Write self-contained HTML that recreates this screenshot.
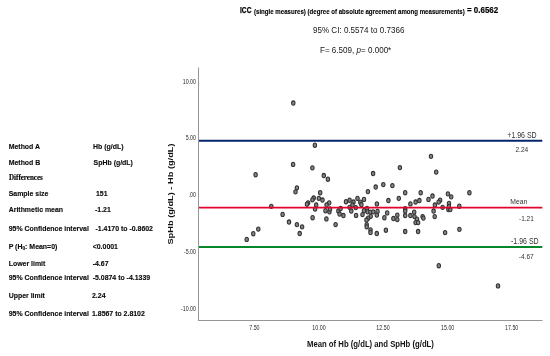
<!DOCTYPE html>
<html><head><meta charset="utf-8"><title>Bland-Altman plot</title>
<style>
html,body{margin:0;padding:0;background:#fff;}
body{width:550px;height:356px;position:relative;overflow:hidden;font-family:"Liberation Sans",Arial,sans-serif;color:#111;}
.t{position:absolute;white-space:nowrap;line-height:1;}
.tb{font-weight:bold;font-size:6.95px;color:#0a0a0a;-webkit-text-stroke:0.12px #0a0a0a;transform-origin:0 50%;transform:scaleY(1.08);}
.c{position:absolute;white-space:nowrap;line-height:1;font-size:6.9px;color:#333;transform-origin:0 50%;transform:scaleY(1.18);}
.k{position:absolute;white-space:nowrap;line-height:1;font-size:5.3px;color:#262626;transform-origin:50% 50%;transform:scaleY(1.28);}
.m{width:40px;text-align:center;}
.r{text-align:right;}
svg{position:absolute;left:0;top:0;}
</style></head><body>
<svg width="550" height="356" viewBox="0 0 550 356">
<line x1="198.5" y1="67.5" x2="198.5" y2="320.5" stroke="#969696" stroke-width="1"/>
<line x1="198" y1="320.5" x2="542.5" y2="320.5" stroke="#969696" stroke-width="1"/>
<g fill="#858585" stroke="#333333" stroke-width="1.05"><ellipse cx="293.3" cy="103.0" rx="1.7" ry="2.15"/><ellipse cx="255.6" cy="174.7" rx="1.7" ry="2.15"/><ellipse cx="246.7" cy="239.4" rx="1.7" ry="2.15"/><ellipse cx="253.3" cy="233.7" rx="1.7" ry="2.15"/><ellipse cx="258.3" cy="229.1" rx="1.7" ry="2.15"/><ellipse cx="271.3" cy="206.3" rx="1.7" ry="2.15"/><ellipse cx="282.6" cy="214.4" rx="1.7" ry="2.15"/><ellipse cx="289.0" cy="222.0" rx="1.7" ry="2.15"/><ellipse cx="314.9" cy="145.2" rx="1.7" ry="2.15"/><ellipse cx="293.1" cy="164.4" rx="1.7" ry="2.15"/><ellipse cx="312.4" cy="167.8" rx="1.7" ry="2.15"/><ellipse cx="323.8" cy="175.5" rx="1.7" ry="2.15"/><ellipse cx="327.9" cy="179.2" rx="1.7" ry="2.15"/><ellipse cx="431.0" cy="156.3" rx="1.7" ry="2.15"/><ellipse cx="399.9" cy="167.6" rx="1.7" ry="2.15"/><ellipse cx="436.2" cy="172.1" rx="1.7" ry="2.15"/><ellipse cx="373.1" cy="173.5" rx="1.7" ry="2.15"/><ellipse cx="383.3" cy="184.6" rx="1.7" ry="2.15"/><ellipse cx="392.4" cy="185.6" rx="1.7" ry="2.15"/><ellipse cx="375.7" cy="187.0" rx="1.7" ry="2.15"/><ellipse cx="367.9" cy="191.6" rx="1.7" ry="2.15"/><ellipse cx="296.9" cy="187.8" rx="1.7" ry="2.15"/><ellipse cx="295.5" cy="191.8" rx="1.7" ry="2.15"/><ellipse cx="320.2" cy="192.7" rx="1.7" ry="2.15"/><ellipse cx="313.7" cy="198.0" rx="1.7" ry="2.15"/><ellipse cx="312.4" cy="199.8" rx="1.7" ry="2.15"/><ellipse cx="318.8" cy="198.3" rx="1.7" ry="2.15"/><ellipse cx="322.5" cy="200.0" rx="1.7" ry="2.15"/><ellipse cx="308.1" cy="202.8" rx="1.7" ry="2.15"/><ellipse cx="307.0" cy="204.2" rx="1.7" ry="2.15"/><ellipse cx="316.2" cy="205.0" rx="1.7" ry="2.15"/><ellipse cx="329.2" cy="202.8" rx="1.7" ry="2.15"/><ellipse cx="326.6" cy="205.0" rx="1.7" ry="2.15"/><ellipse cx="315.1" cy="209.0" rx="1.7" ry="2.15"/><ellipse cx="325.5" cy="210.7" rx="1.7" ry="2.15"/><ellipse cx="329.4" cy="211.8" rx="1.7" ry="2.15"/><ellipse cx="330.0" cy="209.0" rx="1.7" ry="2.15"/><ellipse cx="338.4" cy="211.0" rx="1.7" ry="2.15"/><ellipse cx="312.6" cy="217.7" rx="1.7" ry="2.15"/><ellipse cx="326.4" cy="218.9" rx="1.7" ry="2.15"/><ellipse cx="339.6" cy="214.0" rx="1.7" ry="2.15"/><ellipse cx="357.5" cy="198.3" rx="1.7" ry="2.15"/><ellipse cx="364.0" cy="199.4" rx="1.7" ry="2.15"/><ellipse cx="349.6" cy="200.2" rx="1.7" ry="2.15"/><ellipse cx="346.0" cy="201.7" rx="1.7" ry="2.15"/><ellipse cx="353.5" cy="202.0" rx="1.7" ry="2.15"/><ellipse cx="360.3" cy="202.2" rx="1.7" ry="2.15"/><ellipse cx="388.4" cy="200.5" rx="1.7" ry="2.15"/><ellipse cx="376.9" cy="203.9" rx="1.7" ry="2.15"/><ellipse cx="352.4" cy="205.0" rx="1.7" ry="2.15"/><ellipse cx="361.4" cy="204.5" rx="1.7" ry="2.15"/><ellipse cx="349.6" cy="207.3" rx="1.7" ry="2.15"/><ellipse cx="355.8" cy="207.6" rx="1.7" ry="2.15"/><ellipse cx="340.6" cy="208.4" rx="1.7" ry="2.15"/><ellipse cx="351.3" cy="211.0" rx="1.7" ry="2.15"/><ellipse cx="364.0" cy="210.7" rx="1.7" ry="2.15"/><ellipse cx="367.0" cy="208.4" rx="1.7" ry="2.15"/><ellipse cx="367.6" cy="211.8" rx="1.7" ry="2.15"/><ellipse cx="370.4" cy="212.1" rx="1.7" ry="2.15"/><ellipse cx="373.2" cy="211.8" rx="1.7" ry="2.15"/><ellipse cx="377.5" cy="211.4" rx="1.7" ry="2.15"/><ellipse cx="343.4" cy="215.5" rx="1.7" ry="2.15"/><ellipse cx="356.1" cy="215.4" rx="1.7" ry="2.15"/><ellipse cx="362.5" cy="214.6" rx="1.7" ry="2.15"/><ellipse cx="376.8" cy="215.1" rx="1.7" ry="2.15"/><ellipse cx="387.2" cy="212.9" rx="1.7" ry="2.15"/><ellipse cx="370.7" cy="216.3" rx="1.7" ry="2.15"/><ellipse cx="368.1" cy="218.2" rx="1.7" ry="2.15"/><ellipse cx="366.5" cy="220.0" rx="1.7" ry="2.15"/><ellipse cx="384.4" cy="217.7" rx="1.7" ry="2.15"/><ellipse cx="393.4" cy="218.5" rx="1.7" ry="2.15"/><ellipse cx="405.2" cy="192.7" rx="1.7" ry="2.15"/><ellipse cx="420.7" cy="192.7" rx="1.7" ry="2.15"/><ellipse cx="398.8" cy="198.3" rx="1.7" ry="2.15"/><ellipse cx="432.5" cy="196.0" rx="1.7" ry="2.15"/><ellipse cx="447.9" cy="193.8" rx="1.7" ry="2.15"/><ellipse cx="428.5" cy="199.4" rx="1.7" ry="2.15"/><ellipse cx="419.4" cy="200.5" rx="1.7" ry="2.15"/><ellipse cx="415.6" cy="202.0" rx="1.7" ry="2.15"/><ellipse cx="440.1" cy="200.2" rx="1.7" ry="2.15"/><ellipse cx="438.6" cy="202.1" rx="1.7" ry="2.15"/><ellipse cx="410.4" cy="203.9" rx="1.7" ry="2.15"/><ellipse cx="434.9" cy="205.0" rx="1.7" ry="2.15"/><ellipse cx="449.0" cy="203.3" rx="1.7" ry="2.15"/><ellipse cx="442.6" cy="207.3" rx="1.7" ry="2.15"/><ellipse cx="405.2" cy="208.7" rx="1.7" ry="2.15"/><ellipse cx="405.2" cy="211.0" rx="1.7" ry="2.15"/><ellipse cx="414.2" cy="212.1" rx="1.7" ry="2.15"/><ellipse cx="433.6" cy="211.0" rx="1.7" ry="2.15"/><ellipse cx="448.4" cy="209.5" rx="1.7" ry="2.15"/><ellipse cx="405.2" cy="215.5" rx="1.7" ry="2.15"/><ellipse cx="410.4" cy="215.5" rx="1.7" ry="2.15"/><ellipse cx="414.5" cy="216.6" rx="1.7" ry="2.15"/><ellipse cx="422.6" cy="216.6" rx="1.7" ry="2.15"/><ellipse cx="434.7" cy="216.6" rx="1.7" ry="2.15"/><ellipse cx="397.3" cy="215.1" rx="1.7" ry="2.15"/><ellipse cx="397.3" cy="219.6" rx="1.7" ry="2.15"/><ellipse cx="417.0" cy="219.1" rx="1.7" ry="2.15"/><ellipse cx="423.4" cy="218.1" rx="1.7" ry="2.15"/><ellipse cx="469.4" cy="192.7" rx="1.7" ry="2.15"/><ellipse cx="451.2" cy="196.8" rx="1.7" ry="2.15"/><ellipse cx="459.3" cy="206.2" rx="1.7" ry="2.15"/><ellipse cx="450.3" cy="209.5" rx="1.7" ry="2.15"/><ellipse cx="448.8" cy="206.5" rx="1.7" ry="2.15"/><ellipse cx="296.9" cy="224.6" rx="1.7" ry="2.15"/><ellipse cx="302.1" cy="226.8" rx="1.7" ry="2.15"/><ellipse cx="335.6" cy="224.6" rx="1.7" ry="2.15"/><ellipse cx="299.7" cy="233.5" rx="1.7" ry="2.15"/><ellipse cx="366.7" cy="224.6" rx="1.7" ry="2.15"/><ellipse cx="366.7" cy="226.8" rx="1.7" ry="2.15"/><ellipse cx="370.5" cy="229.8" rx="1.7" ry="2.15"/><ellipse cx="370.5" cy="232.4" rx="1.7" ry="2.15"/><ellipse cx="376.8" cy="233.5" rx="1.7" ry="2.15"/><ellipse cx="385.9" cy="230.2" rx="1.7" ry="2.15"/><ellipse cx="415.6" cy="222.6" rx="1.7" ry="2.15"/><ellipse cx="418.1" cy="222.6" rx="1.7" ry="2.15"/><ellipse cx="405.2" cy="231.5" rx="1.7" ry="2.15"/><ellipse cx="418.1" cy="231.5" rx="1.7" ry="2.15"/><ellipse cx="445.1" cy="232.6" rx="1.7" ry="2.15"/><ellipse cx="459.4" cy="229.3" rx="1.7" ry="2.15"/><ellipse cx="438.8" cy="265.7" rx="1.7" ry="2.15"/><ellipse cx="498.0" cy="285.9" rx="1.7" ry="2.15"/></g>
<line x1="199" y1="140.85" x2="542.3" y2="140.85" stroke="#04246c" stroke-width="2"/>
<line x1="199" y1="207.6" x2="542.3" y2="207.6" stroke="#e0052d" stroke-width="1.9"/>
<line x1="199" y1="247" x2="542.3" y2="247" stroke="#08862a" stroke-width="2"/>
</svg>

<!-- header -->
<div class="t" id="icc" style="left:240.2px;top:6.2px;font-weight:bold;font-size:8.3px;color:#000;-webkit-text-stroke:0.25px #000;transform-origin:0 50%;transform:scaleX(0.8);">ICC</div>
<div class="t" id="sub" style="left:253.8px;top:7.6px;font-weight:bold;font-size:7px;color:#000;-webkit-text-stroke:0.12px #000;transform-origin:0 50%;transform:scaleX(0.871);">(single measures) (degree of absolute agreement among measurements)</div>
<div class="t" id="eq" style="left:467px;top:5.9px;font-weight:bold;font-size:8.8px;color:#000;-webkit-text-stroke:0.2px #000;transform-origin:0 50%;transform:scaleX(0.905);">= 0.6562</div>
<div class="t" id="l2" style="left:313.2px;top:25.9px;font-size:8.8px;color:#161616;transform-origin:0 50%;transform:scaleX(0.916);">95% CI: 0.5574 to 0.7366</div>
<div class="t" id="l3" style="left:320px;top:46.3px;font-size:8.8px;color:#161616;transform-origin:0 50%;transform:scaleX(0.916);">F= 6.509, <i>p</i>= 0.000*</div>

<!-- table -->
<div class="t tb" style="left:8.7px;top:143.6px;">Method A</div><div class="t tb" style="left:93px;top:143.6px;">Hb (g/dL)</div>
<div class="t tb" style="left:8.7px;top:160px;">Method B</div><div class="t tb" style="left:93.6px;top:160px;">SpHb (g/dL)</div>
<div class="t" style="left:8.7px;top:174.3px;font-family:'Liberation Serif',serif;font-weight:bold;font-size:7.7px;color:#000;-webkit-text-stroke:0.15px #000;transform-origin:0 50%;transform:scaleX(0.915);">Differences</div>
<div class="t tb" style="left:8.7px;top:190.6px;">Sample size</div><div class="t tb" style="left:96px;top:190.6px;">151</div>
<div class="t tb" style="left:8.7px;top:207px;">Arithmetic mean</div><div class="t tb" style="left:95px;top:207px;">-1.21</div>
<div class="t tb" style="left:8.7px;top:225.6px;">95% Confidence interval</div><div class="t tb" style="left:95.5px;top:225.6px;">-1.4170 to -0.8602</div>
<div class="t tb" style="left:8.7px;top:243.6px;">P (H<span style="font-size:4.8px;vertical-align:-0.8px;">0</span>: Mean=0)</div><div class="t tb" style="left:92.7px;top:243.6px;">&lt;0.0001</div>
<div class="t tb" style="left:8.7px;top:261px;">Lower limit</div><div class="t tb" style="left:92.7px;top:261px;">-4.67</div>
<div class="t tb" style="left:8.7px;top:275px;">95% Confidence interval</div><div class="t tb" style="left:92.7px;top:275px;">-5.0874 to -4.1339</div>
<div class="t tb" style="left:8.7px;top:293px;">Upper limit</div><div class="t tb" style="left:92px;top:293px;">2.24</div>
<div class="t tb" style="left:8.7px;top:311px;">95% Confidence interval</div><div class="t tb" style="left:92px;top:311px;">1.8567 to 2.8102</div>

<!-- y ticks -->
<div class="k r" style="left:170px;width:26px;top:80.3px;">10.00</div>
<div class="k r" style="left:170px;width:26px;top:135.7px;">5.00</div>
<div class="k r" style="left:170px;width:26px;top:192.9px;">.00</div>
<div class="k r" style="left:170px;width:26px;top:249.8px;">-5.00</div>
<div class="k r" style="left:170px;width:26px;top:306.7px;">-10.00</div>
<!-- x ticks -->
<div class="k m" style="left:234.4px;top:326.1px;">7.50</div>
<div class="k m" style="left:299px;top:326.1px;">10.00</div>
<div class="k m" style="left:363px;top:326.1px;">12.50</div>
<div class="k m" style="left:427.7px;top:326.1px;">15.00</div>
<div class="k m" style="left:491.7px;top:326.1px;">17.50</div>
<!-- ref labels -->
<div class="c" style="left:507.3px;top:132.4px;font-size:7px;">+1.96 SD</div>
<div class="c" style="left:515.4px;top:147.3px;font-size:6.6px;">2.24</div>
<div class="c" style="left:510.3px;top:199.2px;font-size:6.8px;">Mean</div>
<div class="c" style="left:519px;top:215.6px;font-size:6.5px;">-1.21</div>
<div class="c" style="left:511px;top:238.2px;font-size:7px;">-1.96 SD</div>
<div class="c" style="left:518.7px;top:254px;font-size:6.6px;">-4.67</div>
<!-- axis titles -->
<div class="t" id="xt" style="left:307px;top:340.8px;font-weight:bold;font-size:7.73px;color:#111;transform-origin:0 50%;transform:scaleY(1.22);">Mean of Hb (g/dL) and SpHb (g/dL)</div>
<div class="t" id="yt" style="left:170.6px;top:193.7px;font-weight:bold;font-size:8px;color:#111;transform:translate(-50%,-50%) rotate(-90deg) scaleX(1.155);">SpHb (g/dL) - Hb (g/dL)</div>
</body></html>
